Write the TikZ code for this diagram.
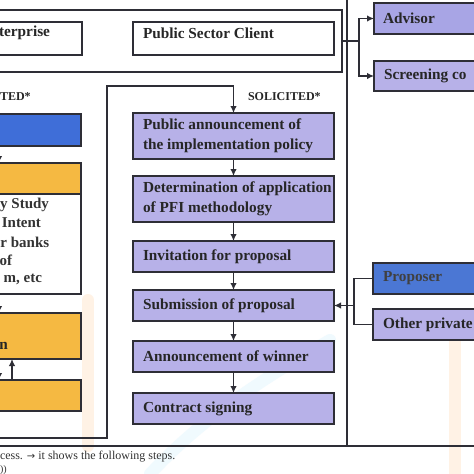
\documentclass[tikz,border=0pt]{standalone}
\usepackage{fontspec}
\setmainfont{Liberation Serif}
\newfontfamily\symfont{DejaVu Sans}
\usetikzlibrary{arrows.meta}
\definecolor{lav}{HTML}{B7B1E8}
\definecolor{lavd}{HTML}{A8A5E5}
\definecolor{blu}{HTML}{3F6ED8}
\definecolor{blu2}{HTML}{4B77D4}
\definecolor{org}{HTML}{F5B942}
\definecolor{edge}{HTML}{2E2E36}
\begin{document}
\begin{tikzpicture}[x=1pt,y=-1pt,
  every node/.style={inner sep=0pt, outer sep=0pt},
  ln/.style={draw=edge, line width=1.4pt},
  arr/.style={ln, -{Latex[length=7pt,width=6.5pt]}},
  wbox/.style={draw=edge, line width=1.3pt, fill=white, anchor=north west},
  obox/.style={draw=edge, line width=1.4pt, fill=org, anchor=north east, minimum width=120},
  lbox/.style={draw=edge, line width=1.8pt, fill=lav, anchor=north west, minimum width=201},
  rbox/.style={draw=edge, line width=1.8pt, anchor=north west, minimum width=130},
  bt/.style={font=\fontsize{15.3}{20}\selectfont\bfseries, text=black!85, anchor=west, align=left},
  rt/.style={font=\fontsize{15}{20}\selectfont\bfseries, text=black!80, anchor=east},
  wm/.style={line width=12pt, line cap=round}
]
\useasboundingbox (0,0) rectangle (474,474);
\fill[white] (0,0) rectangle (474,474);
% faint background marks
\draw[wm, orange!10] (88,300) -- (88,446);
\draw[wm, orange!10] (455,330) -- (455,474);
\draw[wm, cyan!6] (150,474) .. controls (200,420) and (260,380) .. (330,340);
% top frame
\node[wbox, anchor=north east, minimum width=360, minimum height=62] (ob) at (342,10) {};
\node[wbox, anchor=north east, minimum width=120, minimum height=33] (ent) at (82,22) {};
\node[bt, anchor=east] (entt) at (50,33) {terprise};
\node[wbox, minimum width=201, minimum height=33] (psc) at (133,22) {};
\node[bt] (psct) at (143,33) {Public Sector Client};
% dividers
\draw[edge, line width=1.3pt] (347,-2) -- (347,446);
\draw[edge, line width=1.3pt] (-2,446) -- (476,446);
% labels
\node[font=\fontsize{12}{12}\selectfont\bfseries, text=black!85, anchor=west] (uns) at (0,97) {TED*};
\node[font=\fontsize{12}{12}\selectfont\bfseries, text=black!85, anchor=west] (sol) at (248,97) {SOLICITED*};
% left flow
\node[draw=edge, line width=1.4pt, fill=blu, anchor=north east, minimum width=120, minimum height=32] (ub) at (81,114) {};
\node[obox, minimum height=31] (oh) at (81,163) {};
\node[wbox, anchor=north east, minimum width=120, minimum height=100] (wb) at (81,194) {};
\node[rt] (w1) at (49,205) {y Study};
\node[rt] (w2) at (41,223) {Intent};
\node[rt, anchor=west] (w3) at (0.5,242) {r banks};
\node[rt] (w4) at (12,260) {of};
\node[rt] (w5) at (42,279) {m, etc};
\node[obox, minimum height=46] (o2) at (81,313) {};
\node[bt, anchor=east] (o2t) at (8,346) {n};
\node[obox, minimum height=31] (o3) at (81,380) {};
\coordinate (ax) at (-1,0);
\coordinate (ux) at (12,0);
\draw[arr] (ub.south -| ax) -- (oh.north -| ax);
\draw[arr] (wb.south -| ax) -- (o2.north -| ax);
\draw[arr] (o2.south -| ax) -- (o3.north -| ax);
\draw[arr] (o3.north -| ux) -- (o2.south -| ux);
% solicited flow
\node[lbox, minimum height=46] (pa) at (133,113) {};
\node[bt] (pat) at ([xshift=10]pa.west) {Public announcement of\\the implementation policy};
\node[lbox, minimum height=46] (det) at (133,176) {};
\node[bt] (dett) at ([xshift=10]det.west) {Determination of application\\of PFI methodology};
\node[lbox, minimum height=31] (inv) at (133,241) {};
\node[bt] (invt) at ([xshift=10]inv.west) {Invitation for proposal};
\node[lbox, minimum height=31] (sub) at (133,290) {};
\node[bt] (subt) at ([xshift=10]sub.west) {Submission of proposal};
\node[lbox, minimum height=31] (win) at (133,341) {};
\node[bt] (wint) at ([xshift=10]win.west) {Announcement of winner};
\node[lbox, minimum height=31] (con) at (133,393) {};
\node[bt] (cont) at ([xshift=10]con.west) {Contract signing};
\draw[arr] (pa) -- (det);
\draw[arr] (det) -- (inv);
\draw[arr] (inv) -- (sub);
\draw[arr] (sub) -- (win);
\draw[arr] (win) -- (con);
\coordinate (lp) at (-5,438);
\draw[arr] (lp) -- (107,438) -- (107,86) -| (pa.north);
% right panel
\node[rbox, fill=lavd, minimum height=31] (adv) at (374,3) {};
\node[bt] (advt) at ([xshift=9]adv.west) {Advisor};
\node[rbox, fill=lav, minimum height=30] (scr) at (374,61) {};
\node[bt] (scrt) at ([xshift=10]scr.west) {Screening co};
\coordinate (br) at (359,41);
\draw[ln] (ob.east) -- (br);
\draw[arr] (br) |- (adv.west);
\draw[arr] (br) |- (scr.west);
\node[rbox, fill=blu2, minimum height=31] (prp) at (373,263) {};
\node[bt, text=black!75] (prpt) at ([xshift=10]prp.west) {Proposer};
\node[rbox, fill=lav, minimum height=31] (oth) at (373,309) {};
\node[bt] (otht) at ([xshift=10]oth.west) {Other private};
\coordinate (jn) at (354,305.5);
\draw[ln] (prp.west) -| (jn);
\draw[ln] (oth.west) -| (jn);
\draw[arr] (jn) -- (sub.east);
% caption
\node[font=\fontsize{12}{12}\selectfont, text=black!80, anchor=west] (cap1) at (0,457) {cess. {\symfont\fontsize{10}{12}\selectfont →} it shows the following steps.};
\node[font=\fontsize{10}{12}\selectfont, text=black!80, anchor=west] (cap2) at (0,470) {))};
\end{tikzpicture}
\end{document}
